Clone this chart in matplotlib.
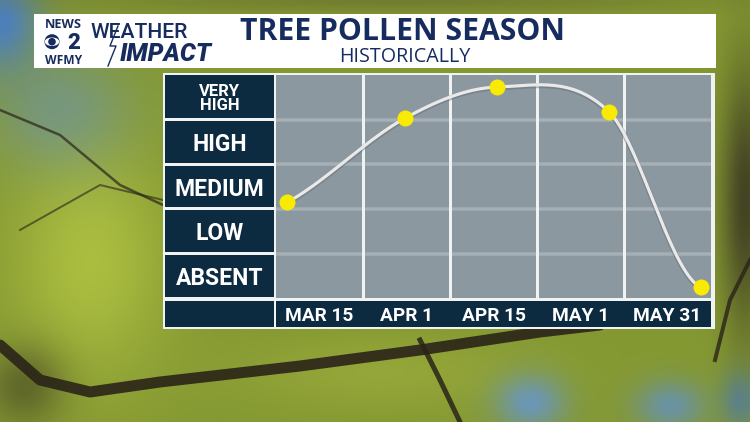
import numpy as np
import matplotlib
matplotlib.use('Agg')
import matplotlib.pyplot as plt
from matplotlib.patches import Rectangle, Circle, Ellipse

# ---------------- data ----------------
levels = ['ABSENT', 'LOW', 'MEDIUM', 'HIGH', 'VERY\nHIGH']
dates = ['MAR 15', 'APR 1', 'APR 15', 'MAY 1', 'MAY 31']
point_pos = [0.13, 1.48, 2.54, 3.83, 4.88]     # position along the date columns
point_level = [2.15, 4.03, 4.73, 4.17, 0.25]   # pollen level (0 = bottom of ABSENT, 5 = top of VERY HIGH)
title = 'TREE POLLEN SEASON'
subtitle = 'HISTORICALLY'

# ---------------- style ----------------
NAVY = '#0c2a40'
HEAD = '#172c5e'
GRAY = '#8c989f'
FRAME = '#f1f2f2'
W, H = 750, 422
DPI = 100
px = 72.0 / DPI  # points per pixel

fig = plt.figure(figsize=(W / DPI, H / DPI), dpi=DPI)
renderer = fig.canvas.get_renderer()
bg = fig.add_axes([0, 0, 1, 1])
bg.set_xlim(0, W)
bg.set_ylim(H, 0)
bg.axis('off')


def fit(t, width):
    """scale a text's font size so that it spans `width` pixels"""
    w = t.get_window_extent(renderer).width
    t.set_fontsize(t.get_fontsize() * width / w)
    return t


# background: soft impression of the leafy photo
yy, xx = np.mgrid[0:H, 0:W].astype(float)
img = np.zeros((H, W, 3))
img[:] = np.array([132, 152, 50]) / 255.0


def blob(cx, cy, rx, ry, color, strength=1.0):
    w = strength * np.exp(-(((xx - cx) / rx) ** 2 + ((yy - cy) / ry) ** 2))
    img[:] = img * (1 - w[..., None]) + (np.array(color) / 255.0) * w[..., None]


blob(90, 260, 80, 120, (178, 196, 66), 0.85)
blob(60, 110, 70, 60, (100, 145, 195), 0.5)
blob(0, 20, 40, 50, (70, 125, 205), 0.9)
blob(380, 372, 150, 40, (160, 176, 62), 0.6)
blob(745, 200, 24, 130, (52, 46, 32), 0.8)
blob(400, 0, 330, 12, (100, 105, 45), 0.55)
blob(530, 402, 35, 28, (100, 150, 215), 0.8)
blob(670, 405, 35, 25, (95, 145, 210), 0.7)
blob(740, 400, 20, 30, (70, 120, 190), 0.6)
blob(25, 385, 40, 40, (55, 50, 32), 0.5)
bg.imshow(img, extent=(0, W, H, 0), aspect='auto', zorder=0, interpolation='bilinear')
# dark branches
bg.plot([0, 40, 90, 160, 300, 420, 540, 600], [345, 380, 392, 382, 366, 350, 332, 325],
        color='#2a2418', lw=11 * px, solid_capstyle='round', zorder=0.5, alpha=0.9)
bg.plot([420, 440, 460], [340, 380, 422], color='#2a2418', lw=5 * px, zorder=0.5, alpha=0.85)
bg.plot([0, 60, 120, 163], [110, 135, 185, 205], color='#2a2418', lw=2.5 * px, zorder=0.5, alpha=0.7)
bg.plot([20, 100, 163], [230, 185, 200], color='#2a2418', lw=2 * px, zorder=0.5, alpha=0.6)
bg.plot([715, 730, 750], [360, 300, 260], color='#2a2418', lw=4 * px, zorder=0.5, alpha=0.8)

# header
bg.add_patch(Rectangle((34, 14), 682, 54, facecolor='white', edgecolor='none', zorder=1))
t = bg.text(402, 32.5, title, ha='center', va='center', fontsize=20.5, fontweight='bold',
            color=HEAD, family='Open Sans', zorder=2)
fit(t, 323)
t = bg.text(404.5, 56.5, subtitle, ha='center', va='center', fontsize=12.5,
            color=HEAD, family='Open Sans', zorder=2)
fit(t, 132)

# logo
t = bg.text(63.5, 28.3, 'NEWS', ha='center', va='baseline', fontsize=9, fontweight='bold',
            color=HEAD, family='Open Sans', zorder=2)
fit(t, 37)
t = bg.text(63.5, 63.5, 'WFMY', ha='center', va='baseline', fontsize=9, fontweight='bold',
            color=HEAD, family='Open Sans', zorder=2)
fit(t, 37)
bg.add_patch(Circle((52, 41.7), 7.5, facecolor=HEAD, edgecolor='none', zorder=2))
bg.add_patch(Ellipse((52, 41.7), 14.5, 8.5, facecolor='white', edgecolor='none', zorder=3))
bg.add_patch(Circle((52, 41.7), 3.8, facecolor=HEAD, edgecolor='none', zorder=4))
bg.text(73.5, 49, '2', ha='center', va='baseline', fontsize=16, fontweight='heavy',
        color=HEAD, family='Roboto', zorder=2)
t = bg.text(139, 32, 'WEATHER', ha='center', va='center', fontsize=17,
            fontweight='medium', color=HEAD, family='Roboto', zorder=2)
fit(t, 98)
t = bg.text(166, 54, 'IMPACT', ha='center', va='center', fontsize=17, fontweight='heavy',
            style='italic', color=HEAD, family='Roboto', zorder=2)
fit(t, 92)
bg.plot([118, 110, 116, 108], [26, 46, 46, 66], color=HEAD, lw=1.0, zorder=3)

# chart panel frame and label cells
X0, X1 = 276, 711        # data area x range (px)
Y0, Y1 = 75, 298.3       # data area y range (px)
LX0, LX1 = 165, 274      # label column
bg.add_patch(Rectangle((163, 73), 552, 256, facecolor=FRAME, edgecolor='none', zorder=1))
row_h = (Y1 - Y0) / len(levels)
for i, lab in enumerate(levels):
    top = Y1 - (i + 1) * row_h
    g_top = 1.5 if i < len(levels) - 1 else 0
    bg.add_patch(Rectangle((LX0, top + g_top), LX1 - LX0, row_h - g_top - 1.5,
                           facecolor=NAVY, edgecolor='none', zorder=2))
    if '\n' in lab:
        bg.text((LX0 + LX1) / 2, top + row_h / 2 + 1, lab, ha='center', va='center',
                fontsize=12, fontweight='bold', color='white', family='Roboto',
                linespacing=0.95, zorder=3)
    else:
        bg.text((LX0 + LX1) / 2, top + row_h / 2 + 2.5, lab, ha='center', va='center',
                fontsize=16.5, fontweight='bold', color='white', family='Roboto', zorder=3)
# bottom date row
bg.add_patch(Rectangle((LX0, 300.7), LX1 - LX0, 26, facecolor=NAVY, edgecolor='none', zorder=2))
bg.add_patch(Rectangle((X0, 300.7), X1 - X0, 26, facecolor=NAVY, edgecolor='none', zorder=2))
col_w = (X1 - X0) / len(dates)
for j, lab in enumerate(dates):
    bg.text(X0 + (j + 0.5) * col_w, 316, lab, ha='center', va='center', fontsize=13.8,
            fontweight='bold', color='white', family='Roboto', zorder=3)

# data axes
ax = fig.add_axes([X0 / W, 1 - Y1 / H, (X1 - X0) / W, (Y1 - Y0) / H])
ax.set_xlim(0, len(dates))
ax.set_ylim(0, len(levels))
ax.set_facecolor(GRAY)
for s in ax.spines.values():
    s.set_visible(False)
ax.set_xticks([])
ax.set_yticks([])
for k in range(1, len(levels)):
    ax.axhline(k, color='#a5afb5', lw=3.5 * px, zorder=1)
for k in range(1, len(dates)):
    ax.axvline(k, color=FRAME, lw=3 * px, zorder=2)

# smooth curve through the points (cubic Hermite, Catmull-Rom interior tangents)
xp = np.array(point_pos)
yp = np.array(point_level)
m = np.zeros_like(yp)
m[1:-1] = (yp[2:] - yp[:-2]) / (xp[2:] - xp[:-2])
m[0] = m[1]
m[-1] = 0.5 * m[-2]
cx, cy = [], []
for i in range(len(xp) - 1):
    h = xp[i + 1] - xp[i]
    t = np.linspace(0, 1, 60)
    h00 = 2 * t**3 - 3 * t**2 + 1
    h10 = t**3 - 2 * t**2 + t
    h01 = -2 * t**3 + 3 * t**2
    h11 = t**3 - t**2
    cx.append(xp[i] + t * h)
    cy.append(h00 * yp[i] + h10 * h * m[i] + h01 * yp[i + 1] + h11 * h * m[i + 1])
cx = np.concatenate(cx)
cy = np.concatenate(cy)
ax.plot(cx, cy - 0.02, color='#5f6a70', lw=5 * px, alpha=0.45, zorder=3, solid_capstyle='round')
ax.plot(cx, cy, color='#e9e9e9', lw=3.2 * px, zorder=4, solid_capstyle='round')
ax.plot(xp, yp, 'o', color='#f8ea00', markersize=16 * px, markeredgewidth=0, zorder=5)

fig.savefig('out.png', dpi=DPI)
